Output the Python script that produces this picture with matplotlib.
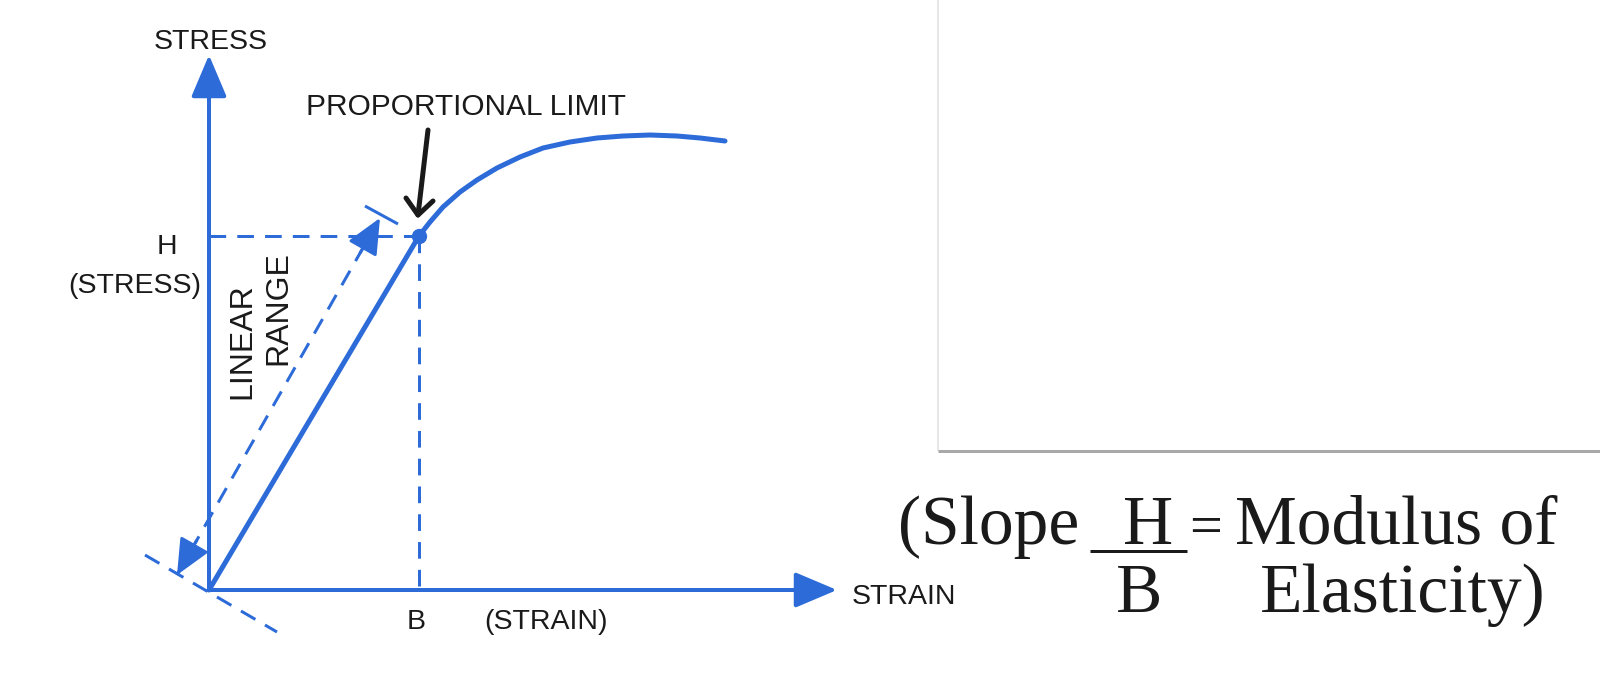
import matplotlib
matplotlib.use("Agg")
import matplotlib.pyplot as plt

# --- colours / fonts ---
BLUE = "#2c6bd8"
INK = "#1a1a1a"
plt.rcParams.update({
    "font.family": ["Liberation Sans", "DejaVu Sans"],
    "lines.scale_dashes": False,
    "lines.solid_capstyle": "butt",
})

# --- diagram geometry (pixel units, y down) ---
origin = (209, 590)
y_axis_tip = (209, 55)
x_axis_tip = (837, 590)
prop_limit = (419, 236)

curve_x = [419, 430, 443, 460, 477, 497, 520, 543, 570, 597, 623, 650, 677, 700, 725]
curve_y = [236, 222, 207, 192, 180, 168, 157, 148, 142, 138, 136, 135, 136, 138, 141]

range_top = (380, 218)       # tip of upper arrowhead on the dashed "linear range" line
range_bottom = (177, 575)    # tip of lower arrowhead
top_tick = [(365, 206), (398, 224)]
bottom_tick = [(145, 555), (277, 632)]

# black pointer: shaft and open V head
pointer_shaft = [(428, 130), (418, 215)]
pointer_head = [(406, 198), (418, 215), (433, 201)]

# frame of the blank panel on the right
panel_left, panel_bottom = 938, 451

px = 0.72  # px -> pt at dpi 100

fig = plt.figure(figsize=(16, 6.79), dpi=100)
ax = fig.add_axes([0, 0, 1, 1])
ax.set_xlim(0, 1600)
ax.set_ylim(679, 0)
ax.axis("off")


def arrow(tip, tail, lw, hl, hw, color=BLUE):
    ax.annotate("", xy=tip, xytext=tail,
                arrowprops=dict(arrowstyle=f"-|>,head_length={hl},head_width={hw}",
                                lw=lw, color=color, shrinkA=0, shrinkB=0,
                                mutation_scale=20))


# axes with arrowheads
arrow(y_axis_tip, origin, 4 * px, 1.3, 0.55)
arrow(x_axis_tip, origin, 4 * px, 1.3, 0.55)

# dashed guides to H and B
dash = (12, 8)
ax.plot([origin[0], prop_limit[0]], [prop_limit[1], prop_limit[1]],
        color=BLUE, lw=3 * px, dashes=dash)
ax.plot([prop_limit[0], prop_limit[0]], [prop_limit[1], origin[1]],
        color=BLUE, lw=3 * px, dashes=dash)

# linear part and the curve beyond the proportional limit
ax.plot([origin[0], prop_limit[0]], [origin[1], prop_limit[1]],
        color=BLUE, lw=5 * px, solid_capstyle="round")
ax.plot(curve_x, curve_y, color=BLUE, lw=5 * px, solid_capstyle="round",
        solid_joinstyle="round")
ax.plot(*prop_limit, "o", color=BLUE, ms=10)

# dashed dimension line for the linear range
ax.plot([range_bottom[0], range_top[0]], [range_bottom[1], range_top[1]],
        color=BLUE, lw=3 * px, dashes=dash)
dx = range_top[0] - range_bottom[0]
dy = range_top[1] - range_bottom[1]
L = (dx ** 2 + dy ** 2) ** 0.5
ux, uy = dx / L, dy / L
arrow(range_top, (range_top[0] - 40 * ux, range_top[1] - 40 * uy), 3 * px, 1.1, 0.5)
arrow(range_bottom, (range_bottom[0] + 40 * ux, range_bottom[1] + 40 * uy), 3 * px, 1.1, 0.5)
ax.plot([p[0] for p in top_tick], [p[1] for p in top_tick], color=BLUE, lw=3 * px)
ax.plot([p[0] for p in bottom_tick], [p[1] for p in bottom_tick],
        color=BLUE, lw=3 * px, dashes=dash)

# black pointer to proportional limit
ax.plot([p[0] for p in pointer_shaft], [p[1] for p in pointer_shaft],
        color=INK, lw=5 * px, solid_capstyle="round")
ax.plot([p[0] for p in pointer_head], [p[1] for p in pointer_head],
        color=INK, lw=5 * px, solid_capstyle="round", solid_joinstyle="round")

# labels
fs = 20.5
ax.text(211, 42, "STRESS", fontsize=fs, color=INK, ha="center", va="center")
ax.text(466, 107, "PROPORTIONAL LIMIT", fontsize=fs + 1, color=INK, ha="center", va="center")
ax.text(167, 247, "H", fontsize=fs, color=INK, ha="center", va="center")
ax.text(135, 286, "(STRESS)", fontsize=fs, color=INK, ha="center", va="center")
ax.text(242, 341, "LINEAR", fontsize=23, color=INK, ha="center", va="center", rotation=90)
ax.text(278, 308, "RANGE", fontsize=23, color=INK, ha="center", va="center", rotation=90)
ax.text(416, 622, "B", fontsize=fs, color=INK, ha="center", va="center")
ax.text(546, 622, "(STRAIN)", fontsize=fs, color=INK, ha="center", va="center")
ax.text(852, 597, "STRAIN", fontsize=fs, color=INK, ha="left", va="center")

# blank panel on the right with its shadowed edge
ax.plot([panel_left, panel_left], [0, panel_bottom], color="#dedede", lw=1.5 * px)
ax.plot([panel_left, 1600], [panel_bottom, panel_bottom], color="#a8a8a8", lw=3 * px)

# slope formula
serif = ["Liberation Serif", "DejaVu Serif"]
sfs = 50
ax.text(898, 544, "(Slope", fontsize=sfs, family=serif, color=INK, ha="left", va="baseline")
ax.text(1148, 544, "H", fontsize=sfs, family=serif, color=INK, ha="center", va="baseline")
ax.plot([1090, 1187], [551, 551], color=INK, lw=3 * px)
ax.text(1206, 544, "=", fontsize=sfs - 8, family=serif, color=INK, ha="center", va="baseline")
ax.text(1235, 544, "Modulus of", fontsize=sfs, family=serif, color=INK, ha="left", va="baseline")
ax.text(1139, 612, "B", fontsize=sfs, family=serif, color=INK, ha="center", va="baseline")
ax.text(1260, 612, "Elasticity)", fontsize=sfs, family=serif, color=INK, ha="left", va="baseline")

fig.savefig("out.png", dpi=100)
